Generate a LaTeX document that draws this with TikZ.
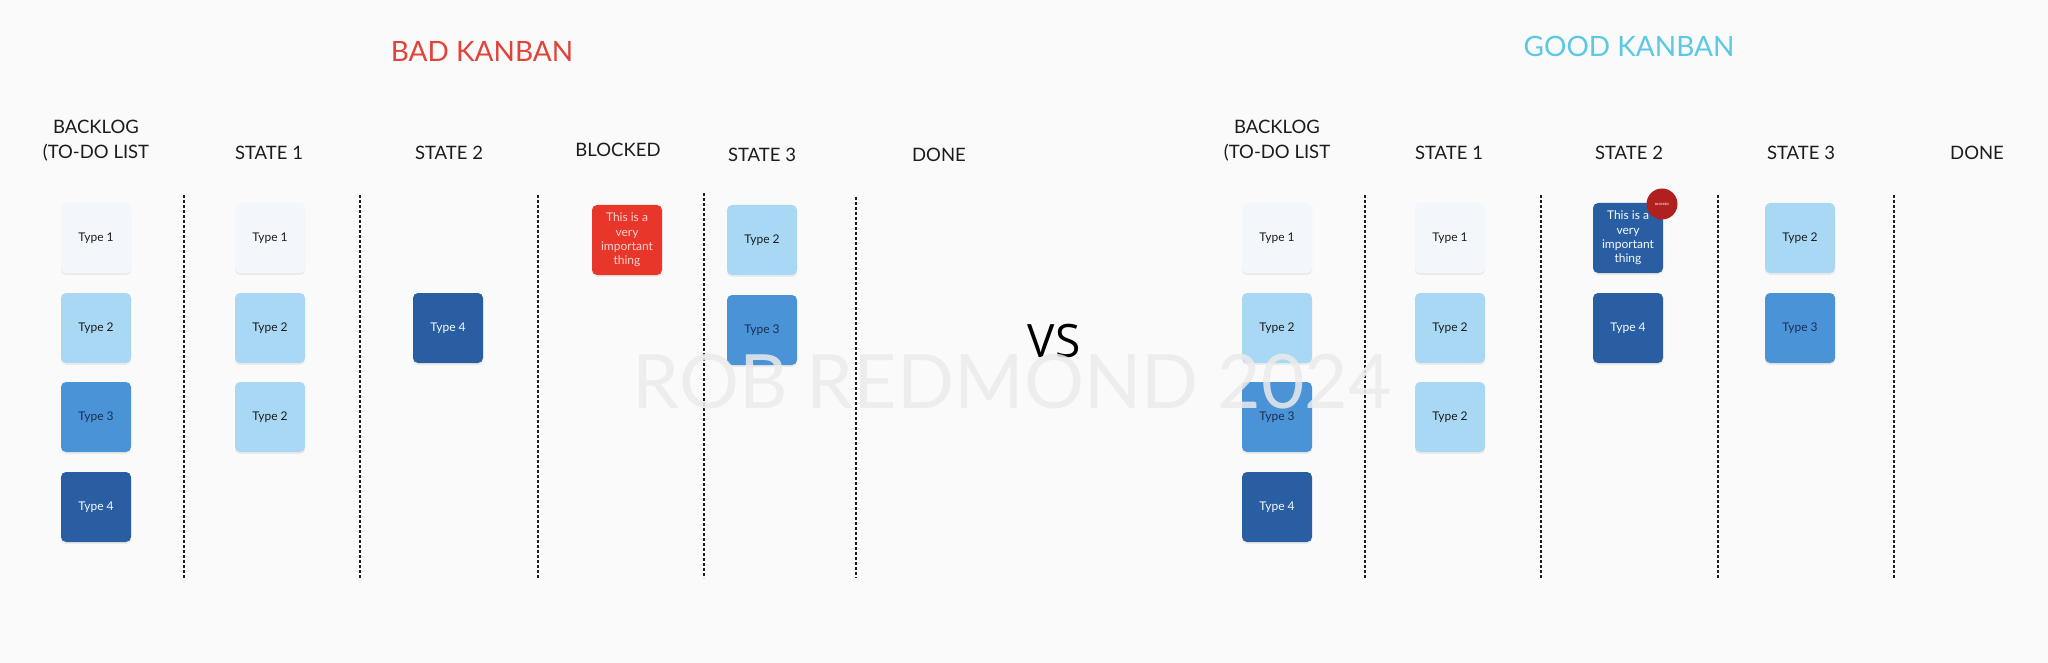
\documentclass[tikz,border=0pt]{standalone}
\usepackage{fontspec}
\setmainfont{Lato}
\newfontfamily\vsfont{Open Sans}
\usetikzlibrary{shadows}
\definecolor{bg}{HTML}{FAFAFA}
\definecolor{tone}{HTML}{F3F7FC}
\definecolor{ttwo}{HTML}{A9D8F5}
\definecolor{tthree}{HTML}{4A93D7}
\definecolor{tfour}{HTML}{2A5EA2}
\definecolor{tred}{HTML}{E8362A}
\definecolor{badred}{HTML}{E0433A}
\definecolor{goodcyan}{HTML}{5CC8E2}
\definecolor{darkred}{HTML}{B0201E}
\definecolor{ink}{HTML}{1C1C1C}
\definecolor{navy}{HTML}{1B2F4F}
\definecolor{pinkish}{HTML}{FBD3CF}
\definecolor{wm}{HTML}{EBEBEB}
\tikzset{
  card/.style={rounded corners=5pt, minimum width=70pt, minimum height=70pt,
    inner sep=2pt, align=center, font=\fontsize{12}{14.4}\selectfont,
    drop shadow={opacity=0.12, shadow xshift=0pt, shadow yshift=-2pt}},
  cone/.style={card, fill=tone, text=ink},
  ctwo/.style={card, fill=ttwo, text=ink},
  cthree/.style={card, fill=tthree, text=navy},
  cfour/.style={card, fill=tfour, text=white!90!ttwo},
  cred/.style={card, fill=tred, text=pinkish},
  cblk/.style={card, fill=tfour, text=white!90!ttwo},
  colhead/.style={font=\fontsize{18.5}{25}\selectfont, text=ink, align=center},
  title/.style={font=\fontsize{28}{30}\selectfont},
  sep/.style={line width=2.6pt, dash pattern=on 3pt off 2pt, draw=ink}
}
\begin{document}
\begin{tikzpicture}[x=1pt,y=-1pt]
\fill[bg] (0,0) rectangle (2048,663);
\useasboundingbox (0,0) rectangle (2048,663);

% ---------- titles ----------
\node[title, text=badred] (badtitle) at (482,51) {BAD KANBAN};
\node[title, text=goodcyan] (goodtitle) at (1629,46) {GOOD KANBAN};

% ---------- BAD board headers ----------
\node[colhead] (bh1) at (96,140.5) {BACKLOG\\(TO-DO LIST};
\node[colhead] (bh2) at (269,153) {STATE 1};
\node[colhead] (bh3) at (449,153) {STATE 2};
\node[colhead] (bh4) at (618,150) {BLOCKED};
\node[colhead] (bh5) at (762,155) {STATE 3};
\node[colhead] (bh6) at (939,155) {DONE};

% ---------- BAD board separators ----------
\foreach \n/\x/\t in {1/184/195, 2/360/195, 3/538/195, 4/704/193, 5/856/197}{
  \coordinate (bs\n t) at (\x,\t);
  \coordinate (bs\n b) at (\x,578);
  \draw[sep] (bs\n t) -- (bs\n b);
}

% ---------- BAD board cards ----------
\node[cone]   (b11) at (96,238) {Type 1};
\node[ctwo]   (b12) at (96,328) {Type 2};
\node[cthree] (b13) at (96,417) {Type 3};
\node[cfour]  (b14) at (96,507) {Type 4};

\node[cone]   (b21) at (270,238) {Type 1};
\node[ctwo]   (b22) at (270,328) {Type 2};
\node[ctwo]   (b23) at (270,417) {Type 2};

\node[cfour]  (b31) at (448,328) {Type 4};

\node[cred]   (b41) at (627,240) {This is a\\very\\important\\thing};

\node[ctwo]   (b51) at (762,240) {Type 2};
\node[cthree] (b52) at (762,330) {Type 3};

% ---------- VS ----------
\node[font=\vsfont\fontsize{46}{46}\selectfont, text=black] (vs) at (1054,341) {VS};

% ---------- GOOD board headers ----------
\node[colhead] (gh1) at (1277,140.5) {BACKLOG\\(TO-DO LIST};
\node[colhead] (gh2) at (1449,153) {STATE 1};
\node[colhead] (gh3) at (1629,153) {STATE 2};
\node[colhead] (gh4) at (1801,153) {STATE 3};
\node[colhead] (gh5) at (1977,153) {DONE};

% ---------- GOOD board separators ----------
\foreach \n/\x in {1/1365, 2/1541, 3/1718, 4/1894}{
  \coordinate (gs\n t) at (\x,195);
  \coordinate (gs\n b) at (\x,578);
  \draw[sep] (gs\n t) -- (gs\n b);
}

% ---------- GOOD board cards ----------
\node[cone]   (g11) at (1277,238) {Type 1};
\node[ctwo]   (g12) at (1277,328) {Type 2};
\node[cthree] (g13) at (1277,417) {Type 3};
\node[cfour]  (g14) at (1277,507) {Type 4};

\node[cone]   (g21) at (1450,238) {Type 1};
\node[ctwo]   (g22) at (1450,328) {Type 2};
\node[ctwo]   (g23) at (1450,417) {Type 2};

\node[cblk]   (g31) at (1628,238) {This is a\\very\\important\\thing};
\node[cfour]  (g32) at (1628,328) {Type 4};

\node[circle, fill=darkred, minimum size=31pt, inner sep=0pt,
      font=\fontsize{3}{3}\selectfont\bfseries, text=white!85!darkred] (blk) at (1662,204) {BLOCKED};

\node[ctwo]   (g41) at (1800,238) {Type 2};
\node[cthree] (g42) at (1800,328) {Type 3};

% ---------- watermark ----------
\node[font=\fontsize{75}{75}\selectfont, text=wm, opacity=0.85] (wmark) at (1012,382) {ROB REDMOND 2024};
\end{tikzpicture}
\end{document}
